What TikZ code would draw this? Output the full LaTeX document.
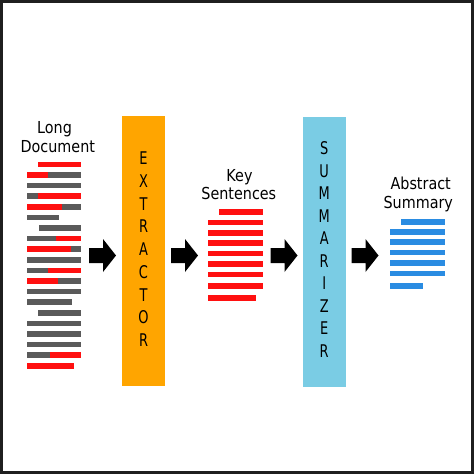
\documentclass[tikz,border=0pt]{standalone}
\usepackage{fontspec}
\setmainfont{DejaVu Sans}
\definecolor{barred}{HTML}{FF1010}
\definecolor{bargray}{HTML}{5A5A5A}
\definecolor{barblue}{HTML}{2A8CE2}
\definecolor{extorange}{HTML}{FFA500}
\definecolor{sumblue}{HTML}{7ACCE4}
\newcommand\sx[1]{\scalebox{0.87}[1]{#1}}
\newcommand\vx[1]{\scalebox{0.74}[1]{#1}}
\newcommand\hb[4]{\fill[#4] (#1,#3-2.8) rectangle (#2,#3+2.8);}
\newcommand\blockarrow[2]{\fill[black] (#1,#2-7.5) -- (#1+14,#2-7.5) -- (#1+14,#2-16.5) -- (#1+27,#2) -- (#1+14,#2+16.5) -- (#1+14,#2+7.5) -- (#1,#2+7.5) -- cycle;}
\tikzset{
  lbl/.style={font=\fontsize{16.5}{19}\selectfont, inner sep=0pt, anchor=base},
  vlet/.style={font=\fontsize{17.5}{19}\selectfont, inner sep=0pt, anchor=base},
  stage/.style={inner sep=0pt, draw=none}
}
\begin{document}
\begin{tikzpicture}[x=1pt,y=-1pt]
\useasboundingbox (0,0) rectangle (474,474);
\fill[white] (0,0) rectangle (474,474);
\draw[line width=3pt, black!88] (1.5,1.5) rectangle (472.5,472.5);

% Long document
\node[lbl] (long1) at (54.5,133) {\sx{Long}};
\node[lbl] (long2) at (57.8,152) {\sx{Document}};
\hb{38}{81}{164.3}{barred}
\hb{27}{48}{174.9}{barred}\hb{48}{81}{174.9}{bargray}
\hb{27}{81}{185.5}{bargray}
\hb{27}{38}{196.1}{bargray}\hb{38}{81}{196.1}{barred}
\hb{27}{62}{206.7}{barred}\hb{62}{81}{206.7}{bargray}
\hb{27}{59}{217.3}{bargray}
\hb{39}{81}{227.9}{bargray}
\hb{27}{56}{238.5}{bargray}\hb{56}{81}{238.5}{barred}
\hb{27}{71}{249.1}{barred}\hb{71}{81}{249.1}{bargray}
\hb{27}{81}{259.7}{bargray}
\hb{27}{48}{270.3}{bargray}\hb{48}{81}{270.3}{barred}
\hb{27}{58}{280.9}{barred}\hb{58}{81}{280.9}{bargray}
\hb{27}{81}{291.5}{bargray}
\hb{27}{72}{302.1}{bargray}
\hb{38}{81}{312.7}{bargray}
\hb{27}{81}{323.3}{bargray}
\hb{27}{81}{333.9}{bargray}
\hb{27}{81}{344.5}{bargray}
\hb{27}{50}{355.1}{bargray}\hb{50}{81}{355.1}{barred}
\hb{27}{74}{365.7}{barred}

% Extractor
\node[stage, fill=extorange, minimum width=43pt, minimum height=270pt] (ext) at (143.5,251) {};
\foreach \l [count=\i] in {E,X,T,R,A,C,T,O,R}
  \node[vlet] (ext\i) at (143.5,164.5+22.75*\i-22.75) {\vx{\l}};

% Key sentences
\node[lbl] (key1) at (239.5,181) {\sx{Key}};
\node[lbl] (key2) at (238.8,199) {\sx{Sentences}};
\hb{219.3}{263}{211.7}{barred}
\hb{208.3}{263}{222.3}{barred}
\hb{208.3}{263}{232.7}{barred}
\hb{208.3}{263}{243.2}{barred}
\hb{208.3}{263}{253.6}{barred}
\hb{208.3}{263}{264}{barred}
\hb{208.3}{263}{274.5}{barred}
\hb{208.3}{263}{286}{barred}
\hb{208.3}{256}{298}{barred}

% Summarizer
\node[stage, fill=sumblue, minimum width=43pt, minimum height=270pt] (sum) at (324.2,251.5) {};
\foreach \l [count=\i] in {S,U,M,M,A,R,I,Z,E,R}
  \node[vlet] (sum\i) at (324.2,154.5+22.56*\i-22.56) {\vx{\l}};

% Abstract summary
\node[lbl] (abs1) at (420.7,189) {\sx{Abstract}};
\node[lbl] (abs2) at (418.3,208) {\sx{Summary}};
\hb{401}{445}{221.7}{barblue}
\hb{390}{445}{232}{barblue}
\hb{390}{445}{242.2}{barblue}
\hb{390}{445}{252.4}{barblue}
\hb{390}{445}{262.7}{barblue}
\hb{390}{445}{273.3}{barblue}
\hb{390}{423.3}{286}{barblue}

% Arrows
\blockarrow{89}{255.5}
\blockarrow{171}{255.5}
\blockarrow{270.5}{255.5}
\blockarrow{351.5}{255.5}
\end{tikzpicture}
\end{document}
